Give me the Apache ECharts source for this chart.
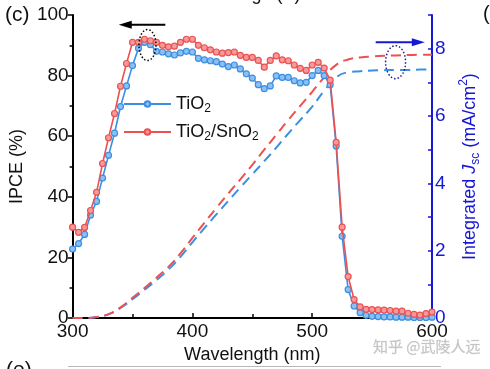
<!DOCTYPE html>
<html><head><meta charset="utf-8">
<script src="https://cdn.jsdelivr.net/npm/echarts@6/dist/echarts.min.js"></script>
<style>html,body{margin:0;padding:0;background:#fff}#c{width:490px;height:369px}</style>
</head><body><div id="c"></div>
<script>
const wavelength = [300,305,310,315,320,325,330,335,340,345,350,355,360,365,370,375,380,385,390,395,400,405,410,415,420,425,430,435,440,445,450,455,460,465,470,475,480,485,490,495,500,505,510,515,520,525,530,535,540,545,550,555,560,565,570,575,580,585,590,595,600];
const ipceTiO2 = [22.8,24.6,27.6,34,38.5,46.2,53.7,61,69.8,76.6,83.3,89,91,90.2,88,87.8,87.2,86.8,87.5,88,87.8,85.7,85.2,84.9,84.6,83.8,83,83.5,82.2,80.6,79.2,77,75.7,76.6,79.9,79.4,79.4,78.3,77.6,77.8,80,81.7,80,77,56.8,27,9.4,4,1.8,0.9,0.6,0.5,0.4,0.4,0.3,0.3,0.3,0.2,0.2,0.2,0.3];
const ipceSnO2 = [30,28.3,29.9,35.5,41.5,51,59.5,67.5,76.5,84,91,91,92,91.5,91,90,89.5,89.7,91,92,92,90,89.2,88.5,87.8,87.4,87.6,87.8,86.7,86,86,85,82.8,85,86.5,85.2,84.9,83.5,82.4,81.7,83.5,84.4,82.5,78.5,58,30,13.7,6.1,3.7,2.9,2.8,2.7,2.6,2.5,2.3,2.3,1.6,1.2,1.0,1.5,2.0];
const jscWavelength = [300,310,320,330,340,350,360,370,380,390,400,410,420,430,440,450,460,470,480,490,500,510,520,530,540,550,560,570,580,590,600];
const jscTiO2 = [0,0,0.03,0.11,0.3,0.56,0.84,1.13,1.44,1.82,2.25,2.67,3.08,3.48,3.88,4.27,4.66,5.06,5.48,5.88,6.28,6.75,7.15,7.3,7.33,7.35,7.36,7.37,7.37,7.38,7.38];
const jscSnO2 = [0,0,0.03,0.12,0.32,0.6,0.89,1.2,1.52,1.92,2.38,2.83,3.27,3.7,4.12,4.55,5.0,5.44,5.88,6.3,6.72,7.15,7.52,7.68,7.74,7.77,7.79,7.8,7.81,7.82,7.82];
const xTicks = [300,400,500,600];
const leftTicks = [0,20,40,60,80,100];
const rightTicks = [0,2,4,6,8];
// annotation anchors in data units
const blackArrow = [[377.4,96.8],[338.5,96.8]];   // IPCE axis
const blackEllipse = [362.5,90.1];
const blueArrow = [[553,8.19],[594,8.19]];        // Jsc axis
const blueEllipse = [569.6,7.6];

const FONT = "'Liberation Sans', Arial, sans-serif";
const BLUE = '#3b8fe3', RED = '#ec5152', AXB = '#1717d6';
const zip = (a,b)=>a.map((v,i)=>[v,b[i]]);

const chart = echarts.init(document.getElementById('c'));
const sub = {fontSize:12, lineHeight:12, verticalAlign:'bottom', fontFamily:FONT, color:'#111'};
chart.setOption({
  animation:false,
  backgroundColor:'#fff',
  grid:{left:69,right:50,top:15,bottom:45},
  legend:{
    orient:'vertical', left:118, top:90, itemWidth:47, itemHeight:7, itemGap:8,
    data:['TiO2','TiO2/SnO2'],
    formatter:n=>'{t|'+n.replace(/2/g,'}{s|2}{t|')+'}',
    textStyle:{rich:{t:{fontSize:18,lineHeight:22,fontFamily:FONT,color:'#111'},s:sub}}
  },
  xAxis:[{
    type:'value',min:300,max:600,interval:100,position:'bottom',
    axisLine:{lineStyle:{color:'#000',width:2}},
    axisTick:{inside:true,length:5,lineStyle:{width:1.5,color:'#000'}},
    minorTick:{show:true,splitNumber:2,length:4,lineStyle:{color:'#000',width:1.5}},
    axisLabel:{fontSize:19,color:'#111',fontFamily:FONT,margin:4,formatter:v=>xTicks.includes(v)?String(v):''},
    splitLine:{show:false},
    name:'Wavelength (nm)',nameLocation:'middle',nameGap:26,
    nameTextStyle:{fontSize:18,color:'#111',fontFamily:FONT}
  },{
    type:'value',min:300,max:600,position:'top',
    axisLine:{lineStyle:{color:'#000',width:2}},axisTick:{show:false},axisLabel:{show:false},splitLine:{show:false}
  }],
  yAxis:[{
    type:'value',min:0,max:100,interval:20,position:'left',
    axisLine:{show:true,lineStyle:{color:'#000',width:2}},
    axisTick:{show:true,length:5,lineStyle:{width:1.5,color:'#000'}},
    minorTick:{show:true,splitNumber:2,length:3,lineStyle:{color:'#000',width:1.5}},
    axisLabel:{fontSize:19,color:'#111',fontFamily:FONT,margin:4,formatter:v=>leftTicks.includes(v)?String(v):''},
    splitLine:{show:false},
    name:'IPCE (%)',nameLocation:'middle',nameGap:44,nameRotate:90,
    nameTextStyle:{fontSize:18,color:'#111',fontFamily:FONT}
  },{
    type:'value',min:0,max:9,interval:1,position:'right',
    axisLine:{show:true,lineStyle:{color:AXB,width:2}},
    axisTick:{show:true,inside:true,length:4,lineStyle:{width:1.5,color:AXB}},
    axisLabel:{fontSize:19,color:AXB,fontFamily:FONT,margin:3,formatter:v=>rightTicks.includes(v)?String(v):''},
    splitLine:{show:false},
    name:'{a|Integrated }{j|J}{s|sc}{a| (mA/cm}{p|2}{a|)}',nameLocation:'middle',nameGap:26,nameRotate:90,
    nameTextStyle:{rich:{
      a:{fontSize:18,lineHeight:24,color:AXB,fontFamily:FONT},
      j:{fontSize:18,lineHeight:24,color:AXB,fontFamily:FONT,fontStyle:'italic'},
      s:{fontSize:12,lineHeight:12,verticalAlign:'bottom',color:AXB,fontFamily:FONT},
      p:{fontSize:12,lineHeight:12,verticalAlign:'top',color:AXB,fontFamily:FONT}
    }}
  }],
  series:[
    {name:'TiO2 Jsc',type:'line',yAxisIndex:1,data:zip(jscWavelength,jscTiO2),showSymbol:false,smooth:true,
     lineStyle:{color:BLUE,width:2,type:[10,6]},itemStyle:{color:BLUE},z:2},
    {name:'TiO2/SnO2 Jsc',type:'line',yAxisIndex:1,data:zip(jscWavelength,jscSnO2),showSymbol:false,smooth:true,
     lineStyle:{color:RED,width:2,type:[10,6]},itemStyle:{color:RED},z:2},
    {name:'TiO2',type:'line',data:zip(wavelength,ipceTiO2),symbol:'circle',symbolSize:6,
     lineStyle:{color:BLUE,width:1.6},itemStyle:{color:'#8cc0f2',borderColor:BLUE,borderWidth:1.2},z:3},
    {name:'TiO2/SnO2',type:'line',data:zip(wavelength,ipceSnO2),symbol:'circle',symbolSize:6,
     lineStyle:{color:RED,width:1.6},itemStyle:{color:'#f49a9a',borderColor:RED,borderWidth:1.2},z:4}
  ]
});

function px(p, yi){ return chart.convertToPixel({xAxisIndex:0,yAxisIndex:yi}, p); }
const ba0 = px(blackArrow[0],0), ba1 = px(blackArrow[1],0);
const be = px(blackEllipse,0);
const ua0 = px(blueArrow[0],1), ua1 = px(blueArrow[1],1);
const ue = px(blueEllipse,1);
chart.setOption({graphic:[
  {type:'text',left:5,top:5,style:{text:'(c)',fontSize:21,fill:'#111',fontFamily:FONT}},
  {type:'text',x:256,y:-14,style:{text:'Voltage (V)',fontSize:18,fill:'#111',fontFamily:FONT,align:'center'}},
  {type:'text',x:483,y:4,style:{text:'(',fontSize:20,fill:'#111',fontFamily:FONT}},
  {type:'text',x:6,y:360,style:{text:'(e)',fontSize:21,fill:'#111',fontFamily:FONT}},
  {type:'line',shape:{x1:68,y1:366.5,x2:441,y2:366.5},style:{stroke:'#b8b8b8',lineWidth:1}},
  {type:'line',shape:{x1:ba0[0],y1:ba0[1],x2:ba1[0]+10,y2:ba1[1]},style:{stroke:'#000',lineWidth:2}},
  {type:'polygon',shape:{points:[[ba1[0],ba1[1]],[ba1[0]+13,ba1[1]-4],[ba1[0]+13,ba1[1]+4]]},style:{fill:'#000'}},
  {type:'ellipse',shape:{cx:be[0],cy:be[1],rx:8.5,ry:15.5},style:{fill:'none',stroke:'#000',lineWidth:1.5,lineDash:[1.5,2]},z:10},
  {type:'line',shape:{x1:ua0[0],y1:ua0[1],x2:ua1[0]-10,y2:ua1[1]},style:{stroke:AXB,lineWidth:2}},
  {type:'polygon',shape:{points:[[ua1[0],ua1[1]],[ua1[0]-13,ua1[1]-4],[ua1[0]-13,ua1[1]+4]]},style:{fill:AXB}},
  {type:'ellipse',shape:{cx:ue[0],cy:ue[1],rx:10,ry:16.5},style:{fill:'none',stroke:'#1a1a9a',lineWidth:1.5,lineDash:[1.5,2]},z:10},
  {type:'text',x:373,y:339,style:{text:'知乎 @武陵人远',fontSize:15,fill:'#c4c4c4',stroke:'#e8e8e8',lineWidth:0.5,fontFamily:"'Noto Sans CJK SC', sans-serif"},z:20}
]});
</script></body></html>
